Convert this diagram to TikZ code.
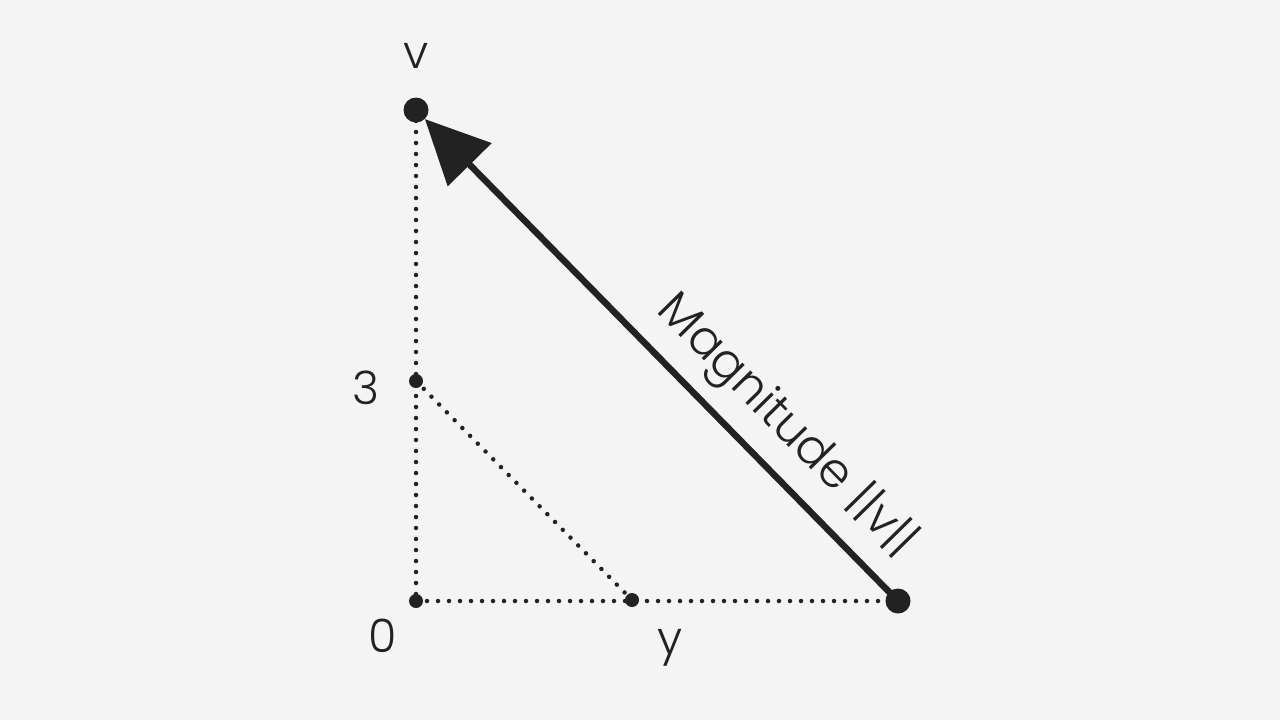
\documentclass[tikz,border=0pt]{standalone}
\usepackage{fontspec}
\setmainfont{Poppins}[UprightFont=* Light]
\usetikzlibrary{arrows.meta}
\definecolor{bg}{HTML}{F4F4F4}
\definecolor{ink}{HTML}{222222}
\tikzset{
  bigdot/.style={circle,fill=ink,inner sep=0pt,minimum size=25pt},
  smalldot/.style={circle,fill=ink,inner sep=0pt,minimum size=14pt},
  dotline/.style={draw=ink,line width=4.5pt,line cap=round,dash pattern=on 0pt off 11pt},
  lbl/.style={text=ink,font=\fontsize{46}{50}\selectfont,inner sep=0pt},
  vec/.style={draw=ink,line width=6.5pt,-{Triangle[length=64pt,width=60pt]}}
}
\begin{document}
\begin{tikzpicture}[x=1pt,y=-1pt]
\fill[bg] (0,0) rectangle (1280,720);
\useasboundingbox (0,0) rectangle (1280,720);
\coordinate (o) at (416,601);
\coordinate (t) at (416,381);
\coordinate (yp) at (632,600);
\coordinate (e) at (898,601);
\coordinate (vp) at (416,110);
\draw[dotline] (vp) -- (o);
\draw[dotline] (o) -- (e);
\draw[dotline] (t) -- (yp);
\node[smalldot] (no) at (o) {};
\node[smalldot] (nt) at (t) {};
\node[smalldot] (ny) at (yp) {};
\node[bigdot] (ne) at (e) {};
\node[bigdot] (nv) at (vp) {};
\draw[vec] (ne.center) -- (nv);
\node[lbl] (lv) at (416,56) {v};
\node[lbl] (l3) at (366,388) {3};
\node[lbl] (l0) at (383,636) {0};
\node[lbl] (ly) at (670,648) {y};
\node[text=ink,font=\fontsize{48}{52}\selectfont,inner sep=0pt,rotate=-45.5] (mag) at (786,426) {Magnitude ||v||};
\end{tikzpicture}
\end{document}
